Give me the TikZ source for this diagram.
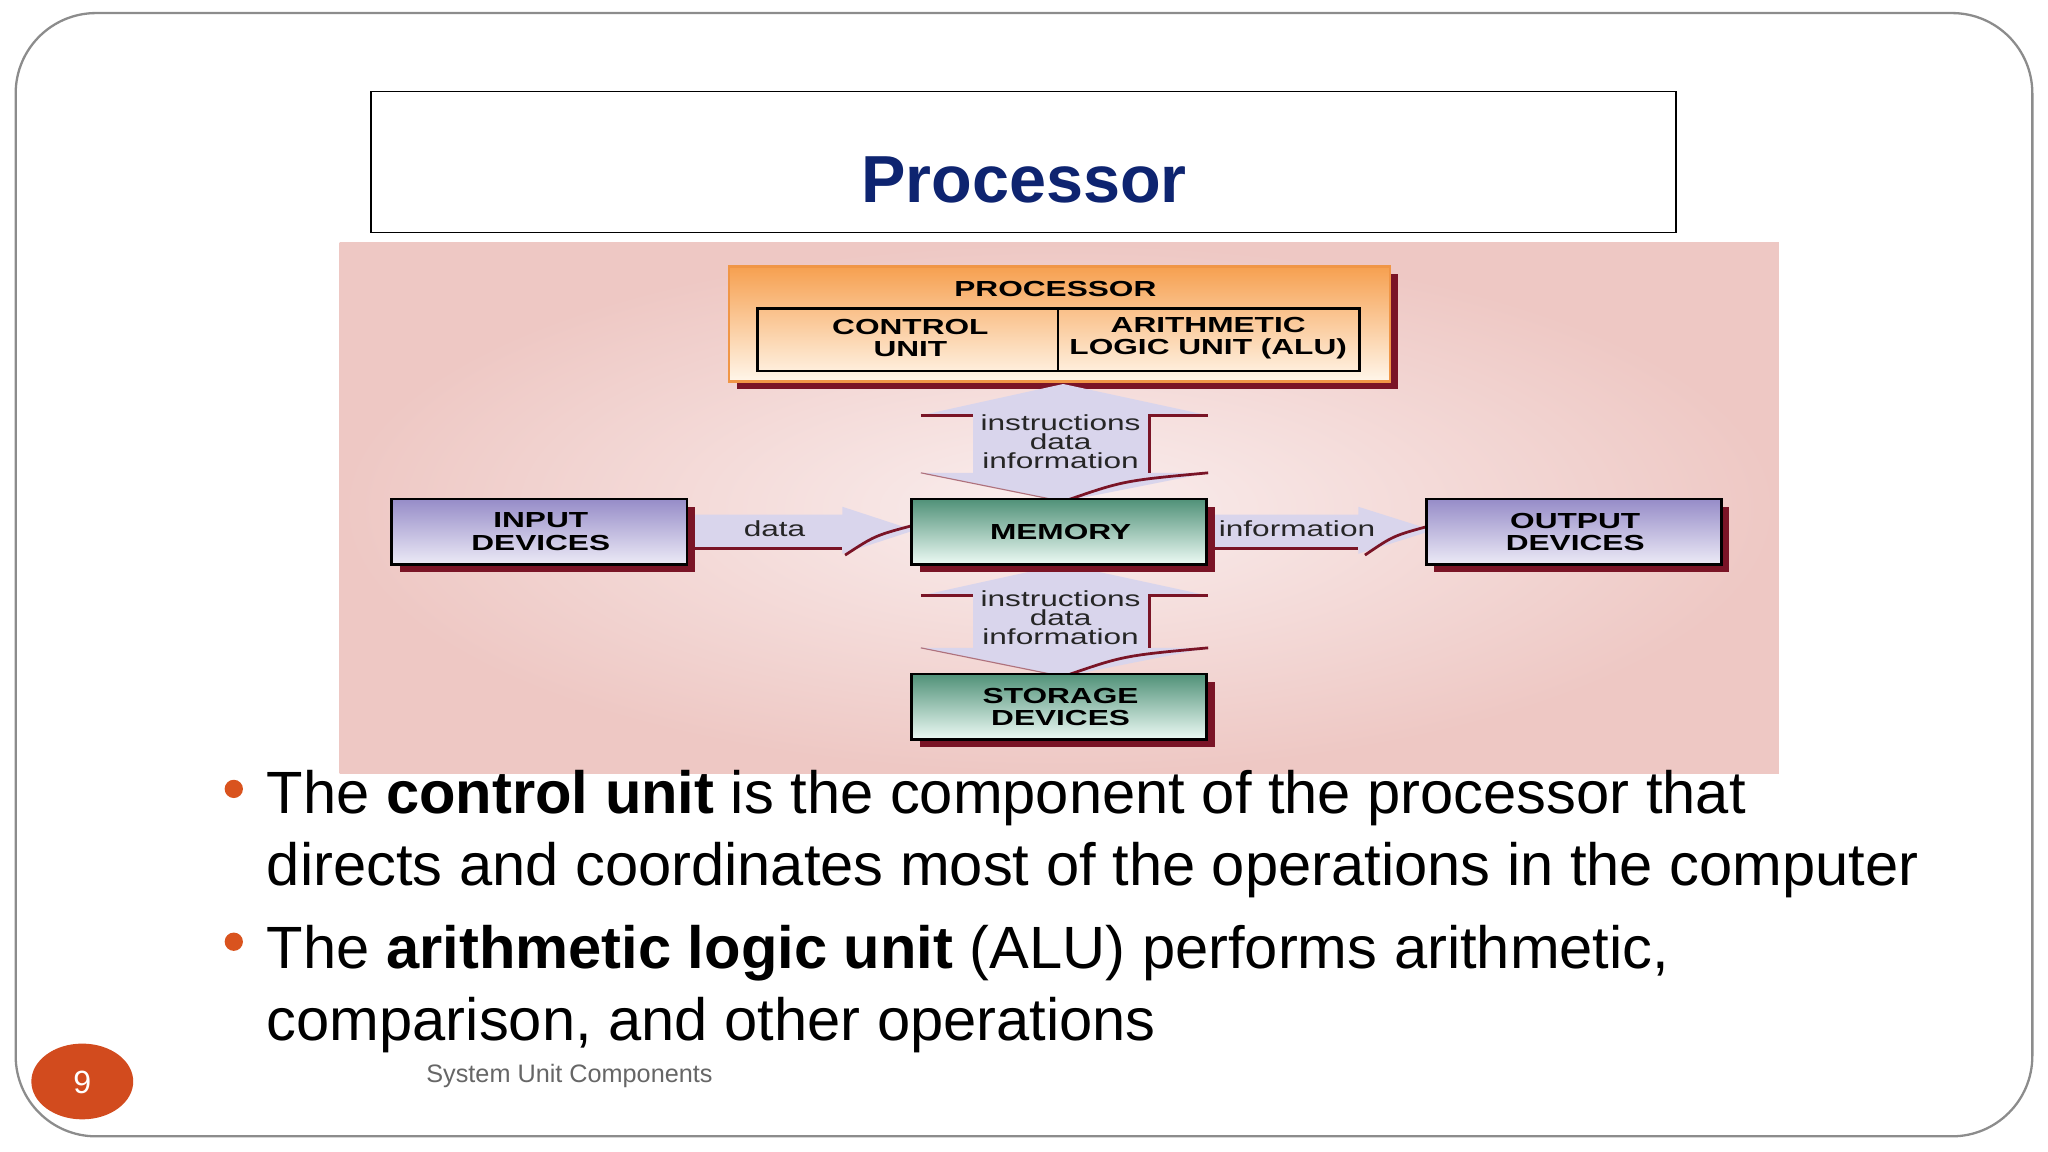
\documentclass[tikz,border=0pt]{standalone}
\usepackage{fontspec}
\setmainfont{Liberation Sans}
\newfontfamily\widebold[FakeStretch=1.45]{Liberation Sans Bold}
\newfontfamily\widereg[FakeStretch=1.45]{Liberation Sans}
\definecolor{navy}{HTML}{0E2470}
\definecolor{shadowred}{HTML}{7A1426}
\definecolor{arrowfill}{HTML}{D9D5EC}
\definecolor{bulletorange}{HTML}{D9531E}
\definecolor{pageorange}{HTML}{D24B1E}
\definecolor{panelout}{HTML}{EEC8C4}
\definecolor{panelin}{HTML}{FAEEEE}
\definecolor{proctop}{HTML}{F6A050}
\definecolor{procbot}{HTML}{FFF6EA}
\definecolor{procedge}{HTML}{F09646}
\definecolor{purtop}{HTML}{968CC8}
\definecolor{purbot}{HTML}{ECEAF6}
\definecolor{grntop}{HTML}{509178}
\definecolor{grnbot}{HTML}{ECFAF4}
\begin{document}
\begin{tikzpicture}[x=0.02cm,y=-0.02cm,
  lbl/.style={font=\widebold\fontsize{9.5}{8.6}\selectfont,align=center,inner sep=0pt},
  small/.style={font=\widereg\fontsize{9.5}{8.3}\selectfont,align=center,inner sep=0pt,text=black!85},
  devbox/.style={draw=black,line width=1.2pt},
  shadow/.style={fill=shadowred},
  arr/.style={fill=arrowfill,draw=none},
  redline/.style={draw=shadowred,line width=1.2pt},
  bul/.style={font=\fontsize{26}{31}\selectfont,anchor=west,inner sep=0pt}]
\useasboundingbox (0,0) rectangle (1568,882);
\draw[black!45,line width=1pt,rounded corners=35,fill=white] (12,10) rectangle (1556,870);
\draw[black,line width=0.8pt] (284,70) rectangle (1283,178);
\node[font=\bfseries\fontsize{29}{30}\selectfont,text=navy] (title) at (784,138) {Processor};
% panel
\shade[inner color=panelin,outer color=panelout] (260,186) rectangle (1362,592);
% processor
\fill[shadow] (564,210) rectangle (1070,298);
\shade[top color=proctop,bottom color=procbot] (558,204) rectangle (1064,292);
\draw[procedge,line width=1pt] (558,204) rectangle (1064,292);
\node[lbl] (proc) at (808,221) {PROCESSOR};
\draw[black,line width=1.2pt] (580,236) rectangle (1041,284);
\draw[black,line width=1.2pt] (810,236) -- (810,284);
\node[lbl] (cu) at (697,259) {CONTROL\\[1pt]UNIT};
\node[lbl] (alu) at (925,259) {ARITHMETIC\\[1pt]LOGIC UNIT (ALU)};
% arrows vertical
\foreach \t/\b in {294/384, 432/518}{
  \pgfmathsetmacro{\s}{\t+24}\pgfmathsetmacro{\e}{\b-22}
  \fill[arr] (814,\t) -- (925,\s) -- (880,\s) -- (880,\e) -- (925,\e) -- (814,\b) -- (705,\e) -- (745,\e) -- (745,\s) -- (705,\s) -- cycle;
  \draw[redline] (705,\s) -- (745,\s);
  \draw[redline] (925,\s) -- (880,\s) -- (880,\e);
  \draw[redline] (925,\e) .. controls (860,\e+6) .. (814,\b);
  \draw[shadowred!60,line width=0.5pt] (705,\e) -- (814,\b);
}
\node[small] (t1) at (812,338) {instructions\\data\\information};
\node[small] (t2) at (812,473) {instructions\\data\\information};
% horizontal arrows
\fill[arr] (526,394) -- (645,394) -- (645,388) -- (700,406) -- (645,424) -- (645,420) -- (526,420) -- cycle;
\draw[redline] (526,420) -- (645,420);
\draw[redline] (700,402) .. controls (670,410) .. (647,425);
\node[small] (d) at (593,405) {data};
\fill[arr] (924,394) -- (1040,394) -- (1040,388) -- (1097,406) -- (1040,424) -- (1040,420) -- (924,420) -- cycle;
\draw[redline] (924,420) -- (1040,420);
\draw[redline] (1097,402) .. controls (1067,410) .. (1045,425);
\node[small] (inf) at (993,405) {information};
% device boxes
\foreach \x/\y/\tc/\bc/\nm/\tx in {
  300/382/purtop/purbot/in/{INPUT\\[1pt]DEVICES},
  1092/382/purtop/purbot/out/{OUTPUT\\[1pt]DEVICES},
  698/382/grntop/grnbot/mem/{MEMORY},
  698/516/grntop/grnbot/sto/{STORAGE\\[1pt]DEVICES}}{
  \fill[shadow] (\x+6,\y+6) rectangle (\x+232,\y+56);
  \shade[top color=\tc,bottom color=\bc] (\x,\y) rectangle (\x+226,\y+50);
  \draw[devbox] (\x,\y) rectangle (\x+226,\y+50);
  \node[lbl] (\nm) at (\x+114,\y+25) {\tx};
}
% bullets
\fill[bulletorange] (179,604) circle (7);
\fill[bulletorange] (179,721) circle (7);
\node[bul] (b1) at (204,611) {The \textbf{control unit} is the component of the processor that};
\node[bul] (b2) at (204,666) {directs and coordinates most of the operations in the computer};
\node[bul] (b3) at (204,730) {The \textbf{arithmetic logic unit} (ALU) performs arithmetic,};
\node[bul] (b4) at (204,785) {comparison, and other operations};
% footer
\fill[pageorange] (63,828) ellipse (39 and 29);
\node[text=white,font=\fontsize{14}{14}\selectfont] (pg) at (63,829) {9};
\node[text=black!60,font=\fontsize{11}{12}\selectfont] (ft) at (436,824) {System Unit Components};
\end{tikzpicture}
\end{document}
